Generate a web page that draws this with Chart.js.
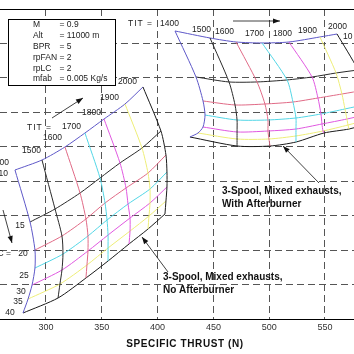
<!DOCTYPE html>
<html><head><meta charset="utf-8">
<script src="https://cdn.jsdelivr.net/npm/chart.js@4.4.0/dist/chart.umd.min.js"></script>
<style>html,body{margin:0;padding:0;background:#fff;}canvas{display:block;}</style>
</head><body>
<canvas id="c" width="354" height="354"></canvas>
<script>
// Carpet parameters
const TIT = [1400, 1500, 1600, 1700, 1800, 1900, 2000];
const PIC = [10, 15, 20, 25, 30, 35, 40];
// rows: TIT index, columns: PIC index
const noAB_thrust = [
  [272.2, 285.7, 290.1, 290.1, 287.5, 283.9, 279.4],
  [296.4, 308.1, 314.3, 315.2, 314.3, 312.5, 310.8],
  [317.0, 330.5, 335.8, 337.6, 337.6, 336.7, 335.8],
  [334.9, 348.4, 352.9, 354.7, 355.6, 355.6, 355.6],
  [352.0, 366.3, 371.7, 373.5, 375.3, 375.3, 374.4],
  [370.8, 386.0, 391.4, 393.2, 393.2, 392.3, 391.4],
  [386.9, 403.0, 407.5, 408.4, 408.4, 407.5, 406.6]
];
const noAB_tsfc = [
  [36.63, 29.08, 25.01, 22.40, 19.93, 17.90, 15.87],
  [38.08, 30.97, 27.05, 24.43, 22.11, 20.08, 18.05],
  [39.97, 33.29, 29.52, 27.05, 24.87, 22.84, 20.95],
  [42.00, 35.47, 31.84, 29.37, 27.19, 25.31, 23.42],
  [44.03, 37.65, 34.02, 31.69, 29.66, 27.77, 25.89],
  [46.21, 39.82, 36.19, 33.87, 31.84, 29.95, 28.06],
  [48.68, 42.29, 38.81, 36.34, 34.16, 32.13, 30.24]
];
const ab_thrust = [
  [415.6, 434.4, 440.7, 442.5, 440.7, 436.2, 429.0],
  [447.0, 464.0, 469.4, 471.2, 471.2, 471.2, 471.2],
  [470.3, 489.1, 496.2, 498.9, 498.9, 499.8, 500.7],
  [493.6, 516.0, 521.3, 524.0, 524.0, 524.0, 524.0],
  [517.7, 538.4, 543.7, 546.4, 547.3, 548.2, 549.1],
  [545.5, 559.9, 565.2, 567.9, 569.7, 570.6, 571.5],
  [560.8, 579.6, 585.8, 588.5, 589.4, 590.3, 591.2]
];
const ab_tsfc = [
  [56.81, 50.13, 46.65, 44.61, 42.87, 42.00, 41.42],
  [55.79, 49.41, 46.07, 43.89, 42.15, 41.13, 40.11],
  [55.21, 49.41, 46.21, 43.89, 42.29, 41.13, 40.11],
  [55.07, 49.70, 46.50, 44.18, 42.58, 41.57, 40.69],
  [55.21, 50.13, 47.08, 44.76, 43.31, 42.29, 42.00],
  [55.94, 50.71, 47.66, 45.49, 44.03, 43.16, 42.58],
  [56.37, 51.15, 48.24, 46.21, 44.76, 44.03, 43.45]
];
const XTICKS = [300, 350, 400, 450, 500, 550];
const YTICKS = [20, 25, 30, 35, 40, 45, 50, 55];
const LEGEND_KEYS = ['M', 'Alt', 'BPR', 'rpFAN', 'rpLC', 'mfab'];
const LEGEND_VALS = ['= 0.9', '= 11000 m', '= 5', '= 2', '= 2', '= 0.005 Kg/s'];
const LABEL_AB = ['3-Spool, Mixed exhausts,', 'With Afterburner'];
const LABEL_NOAB = ['3-Spool, Mixed exhausts,', 'No Afterburner'];

const COLORS = ['#5e58c8', '#2a2a2a', '#e06a86', '#52d6e6', '#e058e0', '#eeee78', '#1a1a1a'];

function carpet(thr, sfc) {
  const ds = [];
  for (let i = 0; i < TIT.length; i++) {
    ds.push({ data: thr[i].map((x, j) => ({ x: x, y: sfc[i][j] })), borderColor: COLORS[i] });
  }
  for (let j = 0; j < PIC.length; j++) {
    ds.push({ data: thr.map((row, i) => ({ x: row[j], y: sfc[i][j] })), borderColor: COLORS[j] });
  }
  return ds;
}
const datasets = carpet(noAB_thrust, noAB_tsfc).concat(carpet(ab_thrust, ab_tsfc)).map(d => Object.assign(d, {
  showLine: true, pointRadius: 0, borderWidth: 1, tension: 0.25, fill: false
}));

const FONT = "'Liberation Sans', Arial, sans-serif";
function arrow(ctx, x1, y1, x2, y2) {
  ctx.beginPath(); ctx.moveTo(x1, y1); ctx.lineTo(x2, y2); ctx.stroke();
  const a = Math.atan2(y2 - y1, x2 - x1), L = 7, W = 2.6;
  ctx.beginPath();
  ctx.moveTo(x2, y2);
  ctx.lineTo(x2 - L * Math.cos(a) + W * Math.sin(a), y2 - L * Math.sin(a) - W * Math.cos(a));
  ctx.lineTo(x2 - L * Math.cos(a) - W * Math.sin(a), y2 - L * Math.sin(a) + W * Math.cos(a));
  ctx.closePath(); ctx.fill();
}
function txt(ctx, s, x, y, align) {
  ctx.textAlign = align || 'left'; ctx.fillText(s, x, y);
}
const annot = {
  id: 'annot',
  afterDatasetsDraw(chart) {
    const ctx = chart.ctx, ca = chart.chartArea;
    ctx.save();
    // top frame line
    ctx.strokeStyle = '#000'; ctx.lineWidth = 1;
    ctx.beginPath(); ctx.moveTo(ca.left, ca.top + 0.5); ctx.lineTo(ca.right, ca.top + 0.5); ctx.stroke();
    // parameter box
    ctx.fillStyle = '#fff'; ctx.fillRect(8, 19, 107, 66);
    ctx.strokeRect(8.5, 19.5, 107, 66);
    ctx.fillStyle = '#222'; ctx.textBaseline = 'middle';
    ctx.font = '8.5px ' + FONT;
    LEGEND_KEYS.forEach((k, i) => {
      txt(ctx, k, 33, 25 + i * 10.8);
      txt(ctx, LEGEND_VALS[i], 59.5, 25 + i * 10.8);
    });
    // carpet labels
    ctx.font = '8.5px ' + FONT;
    ctx.letterSpacing = '1px';
    txt(ctx, 'TIT =', 128, 24);
    txt(ctx, 'TIT =', 27, 128);
    ctx.letterSpacing = '0px';
    const up = [[1400, 160, 24], [1500, 192, 30], [1600, 215, 32], [1700, 245, 34], [1800, 273, 34], [1900, 298, 31], [2000, 328, 27]];
    up.forEach(p => txt(ctx, String(p[0]), p[1], p[2]));
    txt(ctx, String(PIC[0]), 343, 37);
    const lo = [[1500, 22, 151], [1600, 43, 138], [1700, 62, 127], [1800, 82, 113], [1900, 100, 98], [2000, 118, 82]];
    lo.forEach(p => txt(ctx, String(p[0]), p[1], p[2]));
    txt(ctx, String(TIT[0]), 9, 163, 'right');
    txt(ctx, String(PIC[0]), 8, 174, 'right');
    const lp = [[15, 20, 226], [20, 23, 254], [25, 24, 276], [30, 21, 292], [35, 18, 302], [40, 10, 313]];
    lp.forEach(p => txt(ctx, String(p[0]), p[1], p[2], 'center'));
    txt(ctx, 'rpHC =', 11, 254, 'right');
    // arrows
    ctx.strokeStyle = '#111'; ctx.fillStyle = '#111'; ctx.lineWidth = 0.8;
    arrow(ctx, 233, 21, 280, 21);
    arrow(ctx, 52, 118, 83, 98);
    arrow(ctx, 3, 210, 12, 243);
    arrow(ctx, 319, 183, 283, 146);
    arrow(ctx, 168, 272, 142, 237);
    // configuration labels
    ctx.fillStyle = '#111';
    ctx.font = 'bold 10px ' + FONT;
    txt(ctx, LABEL_AB[0], 222, 191); txt(ctx, LABEL_AB[1], 222, 204);
    txt(ctx, LABEL_NOAB[0], 163, 277); txt(ctx, LABEL_NOAB[1], 163, 290);
    // axis title
    ctx.font = 'bold 10px ' + FONT;
    ctx.letterSpacing = '0.6px';
    txt(ctx, 'SPECIFIC THRUST (N)', 185, 344, 'center');
    ctx.restore();
  }
};

new Chart(document.getElementById('c'), {
  type: 'scatter',
  data: { datasets: datasets },
  options: {
    responsive: false, animation: false, devicePixelRatio: 1,
    layout: { padding: { top: 9, left: 0, right: 0, bottom: 0 } },
    plugins: { legend: { display: false }, tooltip: { enabled: false } },
    scales: {
      x: {
        type: 'linear', min: 258.78, max: 576,
        afterBuildTicks: s => { s.ticks = XTICKS.map(v => ({ value: v })); },
        ticks: { font: { family: FONT, size: 9 }, color: '#333', padding: 3 },
        grid: { color: '#555', lineWidth: 1, drawTicks: false },
        border: { display: true, color: '#000', width: 1, dash: [7, 4] },
        afterFit: s => { s.height = 35; }
      },
      y: {
        type: 'linear', min: 15, max: 60,
        afterBuildTicks: s => { s.ticks = YTICKS.map(v => ({ value: v })); },
        ticks: { display: false },
        grid: { color: '#555', lineWidth: 1, drawTicks: false },
        border: { display: false, dash: [7, 4] },
        afterFit: s => { s.width = 0; }
      }
    }
  },
  plugins: [annot]
});
</script>
</body></html>
